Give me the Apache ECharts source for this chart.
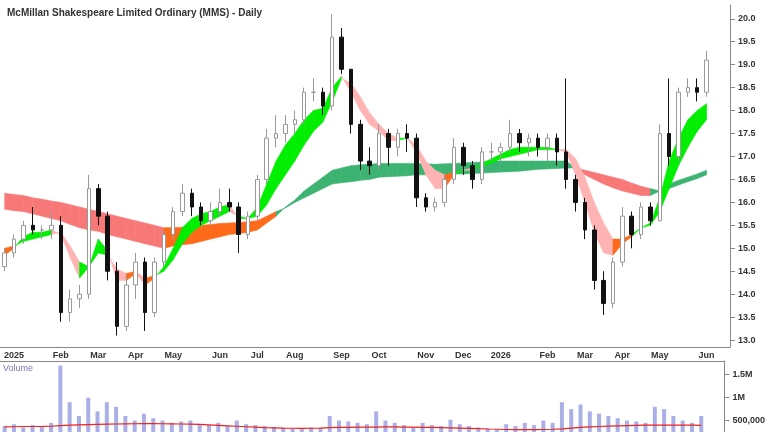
<!DOCTYPE html>
<html><head><meta charset="utf-8">
<script src="https://cdn.jsdelivr.net/npm/echarts@6/dist/echarts.min.js"></script>
<style>html,body{margin:0;padding:0;background:#fff}#c{width:768px;height:432px}</style>
</head><body><div id="c"></div>
<script>
const weekStarts = ['2024-12-23'];
const opens = [14.6,14.9,15.2,15.5,15.4,15.4,15.5,13.6,13.9,14.0,16.3,15.7,14.5,13.3,14.2,14.7,13.6,14.7,15.3,15.8,16.2,15.9,15.6,15.8,16.0,15.9,15.3,15.7,16.5,17.4,17.5,17.7,17.8,18.4,18.4,18.1,19.6,18.9,17.7,16.9,16.8,17.5,17.2,17.5,17.4,16.1,15.9,16.0,16.5,17.2,16.8,16.5,17.1,17.1,17.2,17.5,17.3,17.4,17.2,17.4,17.1,16.5,16.0,15.4,14.3,13.8,14.7,15.7,15.3,15.9,15.6,17.5,17.0,18.4,18.5,18.4];
const highs = [15.0,15.3,15.6,15.9,15.5,15.8,15.7,14.1,14.2,16.6,16.4,15.8,14.7,14.4,14.9,14.8,14.8,15.4,15.9,16.4,16.3,16.0,16.0,16.3,16.3,16.0,15.8,16.6,17.6,17.9,17.9,18.0,18.5,18.7,18.5,20.1,19.8,18.9,17.8,17.2,17.7,17.6,17.6,17.7,17.5,16.2,16.1,16.6,17.4,17.3,16.9,17.2,17.3,17.3,17.8,17.6,17.5,17.5,17.5,17.5,18.7,16.6,16.1,15.5,14.5,14.8,15.9,15.8,16.0,16.0,17.7,18.7,18.5,18.7,18.7,19.3];
const lows = [14.5,14.8,15.1,15.3,15.2,15.2,13.4,13.4,13.7,13.9,15.5,14.3,13.1,13.2,13.9,13.2,13.5,14.6,15.2,15.7,15.7,15.5,15.5,15.7,15.8,14.9,15.2,15.6,16.4,17.2,17.3,17.5,17.7,18.2,17.9,18.0,18.8,17.5,16.7,16.6,16.7,16.8,17.0,17.1,15.9,15.8,15.8,15.9,16.4,16.6,16.3,16.4,16.9,16.9,17.1,17.1,17.0,17.0,16.9,16.8,16.3,15.8,15.2,14.1,13.55,13.7,14.6,15.0,15.2,15.5,15.6,16.8,16.9,18.3,18.2,18.3];
const closes = [14.9,15.2,15.5,15.4,15.4,15.5,13.6,13.9,14.0,16.3,15.7,14.5,13.3,14.2,14.7,13.6,14.7,15.3,15.8,16.2,15.9,15.6,15.8,16.0,15.9,15.3,15.7,16.5,17.4,17.5,17.7,17.8,18.4,18.4,18.1,19.6,18.9,17.7,16.9,16.8,17.5,17.2,17.5,17.4,16.1,15.9,16.0,16.5,17.2,16.8,16.5,17.1,17.1,17.2,17.5,17.3,17.4,17.2,17.4,17.1,16.5,16.0,15.4,14.3,13.8,14.7,15.7,15.3,15.9,15.6,17.5,17.0,18.4,18.5,18.4,19.1];
const shortFast = [14.85,15.0,15.25,15.35,15.35,15.4,15.3,14.8,14.35,14.6,15.2,14.95,14.3,14.3,14.45,14.2,14.35,14.6,15.0,15.45,15.65,15.75,15.8,15.9,15.95,15.65,15.65,15.9,16.4,16.9,17.25,17.5,17.8,18.0,18.05,18.5,18.75,18.4,18.0,17.7,17.55,17.35,17.35,17.4,17.1,16.6,16.3,16.3,16.6,16.7,16.7,16.85,16.95,17.05,17.15,17.2,17.2,17.2,17.2,17.15,17.1,16.6,16.0,15.35,14.9,14.85,15.1,15.25,15.45,15.55,16.1,16.9,17.4,17.8,18.0,18.15];
const shortSlow = [15.0,15.05,15.15,15.2,15.25,15.3,15.35,15.05,14.7,14.6,14.9,14.85,14.55,14.45,14.5,14.35,14.4,14.5,14.75,15.1,15.35,15.5,15.6,15.7,15.8,15.7,15.65,15.7,15.95,16.3,16.6,16.9,17.25,17.55,17.75,18.2,18.7,18.6,18.3,17.95,17.7,17.5,17.4,17.4,17.25,16.9,16.7,16.6,16.65,16.7,16.75,16.8,16.85,16.95,17.0,17.05,17.1,17.15,17.15,17.15,17.15,16.95,16.55,16.0,15.55,15.2,15.2,15.3,15.45,15.5,15.8,16.3,16.8,17.2,17.55,17.8];
const longFast = [15.85,15.82,15.8,15.75,15.7,15.65,15.6,15.52,15.45,15.4,15.37,15.3,15.25,15.2,15.15,15.1,15.05,15.0,15.05,15.08,15.1,15.15,15.2,15.25,15.3,15.32,15.35,15.4,15.55,15.7,15.9,16.05,16.25,16.4,16.55,16.7,16.75,16.8,16.82,16.83,16.85,16.85,16.85,16.85,16.85,16.84,16.83,16.84,16.85,16.86,16.87,16.88,16.9,16.9,16.9,16.9,16.9,16.9,16.9,16.9,16.9,16.75,16.6,16.5,16.4,16.32,16.25,16.2,16.15,16.15,16.25,16.4,16.48,16.55,16.62,16.7];
const longSlow = [16.2,16.17,16.15,16.1,16.07,16.03,16.0,15.95,15.9,15.85,15.8,15.75,15.7,15.65,15.6,15.55,15.5,15.45,15.45,15.46,15.48,15.5,15.52,15.54,15.55,15.56,15.58,15.6,15.7,15.8,15.88,16.0,16.1,16.2,16.3,16.4,16.43,16.45,16.48,16.5,16.55,16.56,16.57,16.58,16.6,16.6,16.6,16.61,16.62,16.62,16.63,16.64,16.65,16.66,16.67,16.68,16.7,16.72,16.73,16.74,16.75,16.75,16.7,16.65,16.6,16.55,16.5,16.42,16.35,16.3,16.25,16.3,16.38,16.45,16.52,16.6];
const volumes = [380,420,350,400,360,450,1700,900,600,1000,700,900,800,600,500,650,550,500,450,480,500,420,400,450,380,500,420,400,380,360,340,330,320,350,340,600,500,480,450,420,700,500,450,400,350,450,400,380,520,420,380,350,330,300,420,380,450,400,500,450,900,750,850,700,650,600,550,500,480,450,800,750,600,500,450,600];
const volumeAvg = [360,365,370,370,372,375,390,400,405,410,415,420,425,428,430,432,432,430,428,425,420,415,405,395,385,375,365,355,345,340,335,332,330,332,335,345,350,352,355,355,358,360,360,358,355,352,350,345,340,335,330,322,315,310,305,300,300,302,305,310,320,335,350,360,370,378,385,390,395,398,400,402,402,400,398,395];
const priceTicks = [13,13.5,14,14.5,15,15.5,16,16.5,17,17.5,18,18.5,19,19.5,20];
const volTicks = [500000,1000000,1500000];

const N = closes.length;
const cats = [];
const months = ['Jan','Feb','Mar','Apr','May','Jun','Jul','Aug','Sep','Oct','Nov','Dec'];
let d0 = new Date(weekStarts[0] + 'T00:00:00Z');
for (let i = 0; i < N + 2; i++) {
  const d = new Date(d0.getTime() + i * 7 * 86400000);
  cats.push(d.toISOString().slice(0, 10));
}
function labelFor(i) {
  if (i === 0) return '';
  const fri = s => new Date(new Date(s + 'T00:00:00Z').getTime() + 4 * 86400000);
  const a = fri(cats[i]), b = fri(cats[i - 1]);
  if (a.getUTCMonth() !== b.getUTCMonth()) {
    return a.getUTCMonth() === 0 ? String(a.getUTCFullYear()) : months[a.getUTCMonth()];
  }
  return '';
}
// first label "2025" on week containing Jan 1
const labels = cats.map((c, i) => i === 1 ? '2025' : labelFor(i));

const candle = closes.map((c, i) => [opens[i], c, lows[i], highs[i]]);
function bandData(A, B) {
  const out = [];
  for (let i = 0; i < A.length - 1; i++) out.push([i, A[i], A[i + 1], B[i], B[i + 1]]);
  return out;
}
function bandSeries(A, B, up, rise, fall) {
  return {
    type: 'custom', xAxisIndex: 0, yAxisIndex: 0, z: 2,
    data: bandData(A, B),
    renderItem: function (params, api) {
      const i = api.value(0);
      const p1 = api.coord([i, api.value(1)]), p2 = api.coord([i + 1, api.value(2)]);
      const p3 = api.coord([i + 1, api.value(4)]), p4 = api.coord([i, api.value(3)]);
      const a1 = api.value(2), b1 = api.value(4), a0 = api.value(1);
      let col = a1 >= b1 ? up : (a1 > a0 ? rise : fall);
      return { type: 'polygon', shape: { points: [p1, p2, p3, p4] },
        style: { fill: col, stroke: col, lineWidth: 0.6 } };
    }
  };
}
const chart = echarts.init(document.getElementById('c'));
chart.setOption({
  animation: false,
  title: { text: 'McMillan Shakespeare Limited Ordinary (MMS) - Daily', left: 2, top: 3,
    textStyle: { fontSize: 10, fontWeight: 'bold', color: '#333', fontFamily: 'Liberation Sans' } },
  graphic: [{ type: 'text', left: 3, top: 364, style: { text: 'Volume', fill: '#7777bb', fontSize: 9, fontFamily: 'Liberation Sans' } }],
  grid: [
    { left: 0, right: 38, top: 5, height: 342 },
    { left: 0, right: 38, top: 361, bottom: 0 }
  ],
  xAxis: [
    { type: 'category', data: cats, gridIndex: 0,
      axisLine: { lineStyle: { color: '#888' } },
      axisTick: { interval: (i) => labels[i] !== '', lineStyle: { color: '#888' }, length: 3 },
      axisLabel: { interval: (i) => labels[i] !== '', formatter: (v, i) => labels[i],
        fontSize: 9, fontWeight: 'bold', color: '#333', margin: 4, fontFamily: 'Liberation Sans' } },
    { type: 'category', data: cats, gridIndex: 1, axisLine: { show: true, lineStyle: { color: '#888' } },
      axisTick: { show: false }, axisLabel: { show: false }, position: 'top' }
  ],
  yAxis: [
    { type: 'value', gridIndex: 0, position: 'right', min: 12.85, max: 20.3, scale: true,
      splitLine: { show: false },
      axisLine: { show: true, lineStyle: { color: '#888' } },
      axisTick: { show: true, customValues: priceTicks, lineStyle: { color: '#888' } },
      axisLabel: { customValues: priceTicks, formatter: v => v.toFixed(1), fontSize: 9, fontWeight: 'bold', color: '#333', fontFamily: 'Liberation Sans' } },
    { type: 'value', gridIndex: 1, position: 'right', min: 250000, max: 1800000,
      splitLine: { show: false },
      axisLine: { show: true, lineStyle: { color: '#888' } },
      axisTick: { show: true, customValues: volTicks, lineStyle: { color: '#888' } },
      axisLabel: { customValues: volTicks, formatter: v => v >= 1000000 ? (v / 1000000) + 'M' : '500,000',
        fontSize: 9, fontWeight: 'bold', color: '#333', fontFamily: 'Liberation Sans' } }
  ],
  series: [
    bandSeries(longFast, longSlow, '#3cb371', '#ff6a1a', '#f87878'),
    bandSeries(shortFast, shortSlow, '#00ee00', '#ff6a1a', '#ffb3b3'),
    { type: 'candlestick', data: candle, xAxisIndex: 0, yAxisIndex: 0, z: 3, barWidth: 4,
      itemStyle: { color: '#ffffff', borderColor: '#999999', color0: '#111111', borderColor0: '#111111', borderWidth: 1 } },
    { type: 'bar', data: volumes.map(v => v * 1000), xAxisIndex: 1, yAxisIndex: 1, barWidth: 4,
      itemStyle: { color: '#aab0e6' } },
    { type: 'line', data: volumeAvg.map(v => v * 1000), xAxisIndex: 1, yAxisIndex: 1, symbol: 'none',
      lineStyle: { color: '#ee2222', width: 1.2 } }
  ]
});
</script></body></html>
